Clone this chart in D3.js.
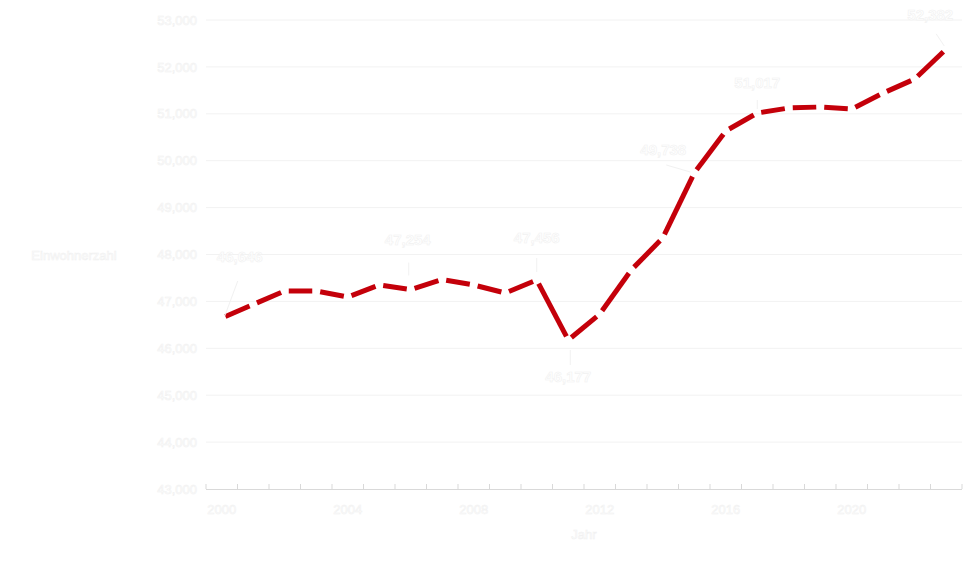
<!DOCTYPE html>
<html>
<head>
<meta charset="utf-8">
<script src="https://cdn.jsdelivr.net/npm/d3@7"></script>
<style>
  html, body { margin: 0; padding: 0; background: #ffffff; }
  svg { display: block; font-family: "Liberation Sans", Arial, sans-serif; }
</style>
</head>
<body>
<svg id="chart" width="980" height="569"></svg>
<script>
// ---- data ----
const years = [2000, 2001, 2002, 2003, 2004, 2005, 2006, 2007, 2008, 2009, 2010, 2011,
               2012, 2013, 2014, 2015, 2016, 2017, 2018, 2019, 2020, 2021, 2022, 2023];
const values = [46646, 46934, 47222, 47222, 47094, 47350, 47254, 47467, 47350, 47179, 47456, 46177,
                46731, 47670, 48352, 49738, 50633, 51017, 51124, 51145, 51102, 51443, 51742, 52382];
const yTicks = [43000, 44000, 45000, 46000, 47000, 48000, 49000, 50000, 51000, 52000, 53000];
const xTickLabels = [2000, 2004, 2008, 2012, 2016, 2020];
const annotatedYears = [2000, 2006, 2010, 2011, 2015, 2017, 2023];
const xTitle = "Jahr";
const yTitle = "Einwohnerzahl";

// ---- layout ----
const svg = d3.select("#chart");
const M = { left: 206, right: 962, top: 20, bottom: 489 };
const textFill = "#ffffff";
const textStroke = "#f1f1f1";

const x = d3.scaleBand().domain(years).range([M.left, M.right]).paddingInner(0).paddingOuter(0);
const y = d3.scaleLinear().domain([43000, 53000]).range([M.bottom, M.top]);
const fmt = d3.format(",");
const cx = yr => x(yr) + x.bandwidth() / 2;

// grid lines
svg.append("g").selectAll("line").data(yTicks.slice(1)).join("line")
  .attr("x1", M.left).attr("x2", M.right)
  .attr("y1", d => y(d)).attr("y2", d => y(d))
  .attr("stroke", "#f2f2f2").attr("stroke-width", 1);

// y axis labels
const yAxis = svg.append("g").attr("transform", `translate(${M.left},0)`)
  .call(d3.axisLeft(y).tickValues(yTicks).tickFormat(fmt).tickSize(0).tickPadding(9));
yAxis.select(".domain").remove();
yAxis.selectAll("text").attr("font-size", 13).attr("fill", textFill)
  .attr("stroke", textStroke).attr("stroke-width", 0.6)
  .attr("font-family", "'Liberation Sans', Arial, sans-serif");

// x axis: ticks at band edges (inward), labels every 4 years at band centre
const xEdge = d3.scaleLinear().domain([0, years.length]).range([M.left, M.right]);
const xAxisG = svg.append("g").attr("transform", `translate(0,${M.bottom})`);
xAxisG.append("line").attr("x1", M.left).attr("x2", M.right).attr("y1", 0.5).attr("y2", 0.5)
  .attr("stroke", "#d9d9d9").attr("stroke-width", 1.2);
xAxisG.selectAll("line.tk").data(d3.range(years.length + 1)).join("line").attr("class", "tk")
  .attr("x1", i => xEdge(i)).attr("x2", i => xEdge(i)).attr("y1", 0).attr("y2", -5)
  .attr("stroke", "#d9d9d9").attr("stroke-width", 1);
xAxisG.selectAll("text").data(xTickLabels).join("text")
  .attr("x", d => cx(d)).attr("y", 25).attr("text-anchor", "middle")
  .attr("font-size", 13).attr("fill", textFill).attr("stroke", textStroke).attr("stroke-width", 0.6)
  .text(d => d);

// axis titles
svg.append("text").attr("x", (M.left + M.right) / 2).attr("y", 539).attr("text-anchor", "middle")
  .attr("font-size", 13).attr("fill", textFill).attr("stroke", textStroke).attr("stroke-width", 0.6)
  .text(xTitle);
svg.append("text").attr("x", 74).attr("y", 260).attr("text-anchor", "middle")
  .attr("font-size", 13).attr("fill", textFill).attr("stroke", textStroke).attr("stroke-width", 0.6)
  .text(yTitle);

// ---- line: each segment dashed with gaps at the vertices ----
const pts = years.map((yr, i) => ({ x: cx(yr), y: y(values[i]) }));
const segs = d3.pairs(pts);
const gap = 8;
const line = d3.line().x(d => d.x).y(d => d.y);
svg.append("g").selectAll("path").data(segs).join("path")
  .attr("d", d => line(d))
  .attr("fill", "none").attr("stroke", "#c4000a").attr("stroke-width", 5)
  .attr("stroke-linecap", "butt")
  .attr("stroke-dasharray", d => {
    const L = Math.hypot(d[1].x - d[0].x, d[1].y - d[0].y);
    return `${Math.max(L - gap, 1)} ${gap}`;
  })
  .attr("stroke-dashoffset", -gap / 2);

// ---- annotations ----
const annoStyle = {
  2000: { dx: 18, dy: -56, lx1: 3, ly1: -2, lx2: 16, ly2: -37 },
  2006: { dx: -3, dy: -44, lx1: -2, ly1: -14, lx2: -2, ly2: -27 },
  2010: { dx: 0, dy: -37, lx1: 0, ly1: -8, lx2: 0, ly2: -22 },
  2011: { dx: 0, dy: 42, lx1: 2, ly1: 10, lx2: 2, ly2: 25 },
  2015: { dx: -31, dy: -18, lx1: -4, ly1: -1, lx2: -28, ly2: -8 },
  2017: { dx: 0, dy: -25, lx1: 0, ly1: -4, lx2: 0, ly2: -13 },
  2023: { dx: -16, dy: -29, lx1: -2, ly1: -3, lx2: -10, ly2: -15 }
};
const ann = svg.append("g");
annotatedYears.forEach(yr => {
  const i = years.indexOf(yr);
  const p = pts[i];
  const s = annoStyle[yr];
  ann.append("line")
    .attr("x1", p.x + s.lx1).attr("y1", p.y + s.ly1)
    .attr("x2", p.x + s.lx2).attr("y2", p.y + s.ly2)
    .attr("stroke", "#f1f1f1").attr("stroke-width", 1);
  ann.append("text")
    .attr("x", p.x + s.dx).attr("y", p.y + s.dy)
    .attr("text-anchor", "middle").attr("font-size", 15).attr("font-weight", "bold")
    .attr("fill", textFill).attr("stroke", textStroke).attr("stroke-width", 0.6)
    .text(fmt(values[i]));
});
</script>
</body>
</html>
